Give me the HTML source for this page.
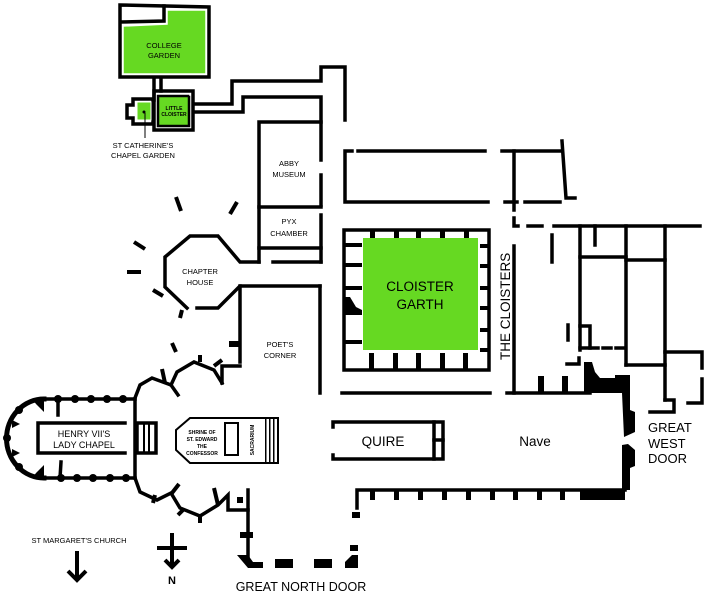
<!DOCTYPE html>
<html><head><meta charset="utf-8"><style>
html,body{margin:0;padding:0;background:#fff;}
svg{display:block}
text{font-family:"Liberation Sans",sans-serif;fill:#000}
</style></head><body>
<svg width="711" height="599" viewBox="0 0 711 599" xmlns="http://www.w3.org/2000/svg">
<g fill="none" stroke="#000" stroke-width="3.5" stroke-linecap="square">
<polygon points="120,5 209,7 209,77 120,77" />
<polyline points="121,22 164,21 164,6"/>
<polygon points="123,26 167,24 167,10 206,10 206,74 123,74" fill="#66d922" stroke="#fff" stroke-width="1.5"/>
<polyline points="154,78 154,100"/>
<polyline points="161,78 161,91"/>
<polygon points="133,99 153,99 153,124 133,124 133,118 127,118 127,105 133,105"/>
<rect x="137" y="102" width="14" height="18" fill="#66d922" stroke="#fff" stroke-width="1"/>
<rect x="154" y="91" width="39" height="39"/>
<rect x="158" y="96" width="31" height="30" fill="#66d922" stroke-dasharray="2,2" stroke-width="2.5"/>
<polyline points="194,104 232,104 232,81 321,81 321,67 345,67 345,120"/>
<polyline points="194,112 243,112 243,97 321,97 321,160"/>
<polyline points="321,175 321,205"/>
<polyline points="321,215 321,262"/>
<polyline points="259,262 259,122 321,122"/>
<line x1="259" y1="207" x2="321" y2="207"/>
<line x1="259" y1="248" x2="321" y2="248"/>
<line x1="273" y1="262" x2="321" y2="262"/>
<polyline points="259,262 240,262 218,236 190,236 165,257 165,287 187,308"/>
<polyline points="320,286 240,286 218,308 197,308"/>
<polyline points="240,286 240,362"/>
<polyline points="320,286 320,393"/>
<polyline points="342,393 490,393"/>
<polyline points="507,393 590,393"/>
<rect x="344" y="230" width="145" height="140"/>
<line x1="514" y1="246" x2="514" y2="393"/>
<polyline points="352,151 345,151 345,202 488,202"/>
<polyline points="358,151 485,151"/>
<polyline points="502,151 560,151"/>
<line x1="514" y1="151" x2="514" y2="210"/>
<polyline points="562,141 566,198 575,198"/>
<polyline points="505,202 517,202"/>
<polyline points="525,202 560,202"/>
<polyline points="514,218 514,226 518,226"/>
<polyline points="528,226 542,226"/>
<polyline points="554,226 700,226"/>
<line x1="552" y1="235" x2="552" y2="262"/>
<line x1="580" y1="226" x2="580" y2="350"/>
<line x1="595" y1="226" x2="595" y2="245"/>
<line x1="580" y1="257" x2="626" y2="257"/>
<line x1="626" y1="226" x2="626" y2="365"/>
<line x1="626" y1="260" x2="665" y2="260"/>
<line x1="665" y1="226" x2="665" y2="400"/>
<line x1="626" y1="365" x2="665" y2="365"/>
<polyline points="665,352 702,352 702,368"/>
<polyline points="702,379 702,403 688,403"/>
<polyline points="665,400 674,400 674,412 650,412"/>
<polyline points="568,325 568,340"/>
<polyline points="580,326 590,326 590,348 580,348"/>
<polyline points="590,348 626,348" stroke-dasharray="8,5"/>
<polyline points="567,364 579,364 579,358"/>
<polyline points="333,427 333,422 443,422 443,459 333,459 333,455"/>
<polyline points="434,422 434,459"/>
<line x1="434" y1="440" x2="443" y2="440"/>
<polyline points="357,508 357,490 625,490"/>
<line x1="42" y1="399" x2="135" y2="399"/>
<line x1="42" y1="478" x2="135" y2="478"/>
<path d="M44,399 A37,39 0 0 0 44,478" stroke-width="5"/>
<line x1="135" y1="399" x2="135" y2="478"/>
<polyline points="125,423 38,423 38,453 125,453"/>
<line x1="58" y1="399" x2="58" y2="415"/>
<line x1="61" y1="462" x2="60" y2="478"/>
<rect x="137" y="423" width="19" height="30"/>
<polyline points="135,398 140,385 152,378 171,385 178,395"/>
<polyline points="171,385 177,372 194,362 214,370 222,383"/>
<polyline points="222,383 222,366 240,366"/>
<polyline points="135,478 140,492 157,500 171,493 180,508 200,516 218,505 228,495 228,510 248,510"/>
<line x1="248" y1="490" x2="248" y2="562"/>
<polygon points="176,430 190,418 278,418 278,463 190,463 176,450" stroke-width="2"/>
<rect x="225" y="423" width="13" height="32" stroke-width="2"/>
</g>
<g fill="#000">
<rect x="143" y="423" width="2" height="30"/><rect x="148" y="423" width="2" height="30"/>
<rect x="265" y="418" width="1.5" height="45"/><rect x="269" y="418" width="1.5" height="45"/><rect x="273" y="418" width="1.5" height="45"/>
<rect x="370" y="230" width="5" height="9"/><rect x="394" y="230" width="5" height="9"/><rect x="416" y="230" width="5" height="9"/><rect x="440" y="230" width="5" height="9"/><rect x="464" y="230" width="5" height="9"/>
<rect x="344" y="243" width="18" height="4"/><rect x="344" y="263" width="18" height="4"/><rect x="344" y="286" width="18" height="4"/><rect x="344" y="340" width="18" height="4"/>
<polygon points="344,297 350,297 356,307 362,310 362,315 344,315"/>
<rect x="480" y="244" width="9" height="4"/><rect x="480" y="264" width="9" height="4"/><rect x="480" y="286" width="9" height="4"/><rect x="480" y="306" width="9" height="4"/><rect x="480" y="328" width="9" height="4"/><rect x="480" y="348" width="9" height="4"/>
<rect x="369" y="353" width="5" height="17"/><rect x="393" y="353" width="5" height="17"/><rect x="416" y="353" width="5" height="17"/><rect x="440" y="353" width="5" height="17"/><rect x="463" y="353" width="5" height="17"/>
<rect x="538" y="376" width="6" height="17"/><rect x="562" y="376" width="6" height="17"/>
<polygon points="584,362 592,362 595,372 600,378 615,378 615,375 630,375 630,410 635,412 635,432 624,437 622,393 584,393"/>
<polygon points="622,445 628,444 635,450 635,466 630,468 630,490 625,490 625,500 580,500 580,490 622,490"/>
<rect x="370" y="490" width="5" height="10"/><rect x="394" y="490" width="5" height="10"/><rect x="418" y="490" width="5" height="10"/><rect x="442" y="490" width="5" height="10"/><rect x="466" y="490" width="5" height="10"/><rect x="490" y="490" width="5" height="10"/><rect x="513" y="490" width="5" height="10"/><rect x="537" y="490" width="5" height="10"/><rect x="560" y="490" width="5" height="10"/>
<rect x="352" y="512" width="8" height="6"/><rect x="350" y="545" width="8" height="6"/>
<polygon points="237,555 248,555 253,562 263,562 263,568 248,568"/>
<rect x="275" y="559" width="18" height="9"/><rect x="314" y="559" width="18" height="9"/>
<polygon points="345,562 352,555 358,555 358,568 345,568"/>
<rect x="240" y="532" width="13" height="6"/><rect x="237" y="497" width="6" height="6"/>
<rect x="229" y="341" width="11" height="6"/>
<circle cx="58" cy="399" r="4"/><circle cx="75" cy="399" r="4"/><circle cx="91" cy="399" r="4"/><circle cx="107" cy="399" r="4"/><circle cx="123" cy="399" r="4"/>
<circle cx="61" cy="478" r="4"/><circle cx="77" cy="478" r="4"/><circle cx="93" cy="478" r="4"/><circle cx="110" cy="478" r="4"/><circle cx="126" cy="478" r="4"/>
<circle cx="19" cy="410" r="4"/><circle cx="7" cy="438" r="4"/><circle cx="19" cy="467" r="4"/>
<polygon points="33,400 44,397 44,412 36,404"/><polygon points="33,477 44,480 44,465 36,473"/>
<polygon points="12,420 20,424 12,428"/><polygon points="12,449 20,453 12,457"/>
</g>
<g stroke="#000" stroke-width="4" fill="none">
<line x1="176" y1="197" x2="181" y2="211"/><line x1="237" y1="202" x2="230" y2="214"/>
<line x1="134" y1="242" x2="145" y2="249"/><line x1="127" y1="272" x2="141" y2="272"/>
<line x1="153" y1="290" x2="163" y2="296"/><line x1="182" y1="310" x2="180" y2="318"/>
<line x1="172" y1="343" x2="176" y2="352"/>
<line x1="162" y1="369" x2="165" y2="383"/><line x1="200" y1="355" x2="200" y2="362"/>
<line x1="214" y1="366" x2="222" y2="360"/>
<line x1="172" y1="493" x2="179" y2="484"/><line x1="218" y1="505" x2="214" y2="488"/>
<line x1="155" y1="495" x2="153" y2="503"/><line x1="200" y1="516" x2="200" y2="523"/>
<line x1="183" y1="510" x2="178" y2="515"/>
<line x1="172" y1="533" x2="172" y2="567"/><line x1="157" y1="548" x2="187" y2="548"/>
<polyline points="165,560 172,567 179,560"/>
<line x1="77" y1="551" x2="77" y2="580"/><polyline points="68,571 77,580 86,571"/>
</g>
<line x1="145" y1="113" x2="145" y2="138" stroke="#000" stroke-width="1"/>
<circle cx="144" cy="112" r="1.5" fill="#000"/>
<rect x="363" y="238" width="115" height="112" fill="#66d922"/>
<g font-size="7.5" text-anchor="middle">
<text x="164" y="48">COLLEGE</text><text x="164" y="58">GARDEN</text>
<text x="143" y="148">ST CATHERINE'S</text><text x="143" y="158">CHAPEL GARDEN</text>
<text x="289" y="166">ABBY</text><text x="289" y="177">MUSEUM</text>
<text x="289" y="224">PYX</text><text x="289" y="236">CHAMBER</text>
<text x="200" y="274">CHAPTER</text><text x="200" y="285">HOUSE</text>
<text x="280" y="347">POET'S</text><text x="280" y="358">CORNER</text>
<text x="79" y="543">ST MARGARET'S CHURCH</text>
</g>
<g font-size="5" text-anchor="middle" font-weight="bold">
<text x="174" y="110">LITTLE</text><text x="174" y="116">CLOISTER</text>
<text x="202" y="434">SHRINE OF</text><text x="202" y="441">ST. EDWARD</text><text x="202" y="448">THE</text><text x="202" y="455">CONFESSOR</text>
<text transform="translate(254,440) rotate(-90)">SACRARIUM</text>
</g>
<text x="84" y="437" font-size="9" text-anchor="middle">HENRY VII'S</text>
<text x="84" y="448" font-size="9" text-anchor="middle">LADY CHAPEL</text>
<text x="420" y="291" font-size="13.5" text-anchor="middle">CLOISTER</text>
<text x="420" y="309" font-size="13.5" text-anchor="middle">GARTH</text>
<text transform="translate(510,360) rotate(-90)" font-size="13.5">THE CLOISTERS</text>
<text x="383" y="446" font-size="13.5" text-anchor="middle">QUIRE</text>
<text x="535" y="446" font-size="13.5" text-anchor="middle">Nave</text>
<text x="648" y="432" font-size="13">GREAT</text><text x="648" y="448" font-size="13">WEST</text><text x="648" y="463" font-size="13">DOOR</text>
<text x="301" y="591" font-size="12.5" text-anchor="middle">GREAT NORTH DOOR</text>
<text x="172" y="584" font-size="11" font-weight="bold" text-anchor="middle">N</text>
</svg>
</body></html>
